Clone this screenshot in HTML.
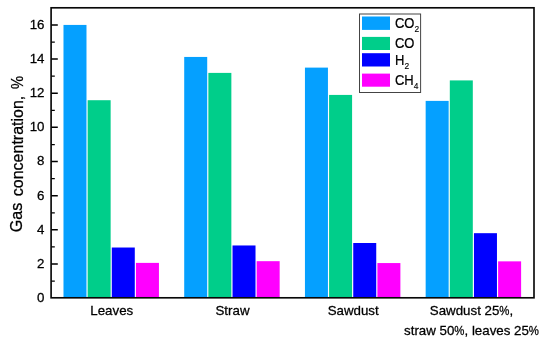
<!DOCTYPE html>
<html><head><meta charset="utf-8"><title>Gas concentration chart</title>
<style>html,body{margin:0;padding:0;background:#fff;overflow:hidden}</style></head>
<body>
<svg width="550" height="344" viewBox="0 0 550 344" style="display:block">
<rect width="550" height="344" fill="#fff"/>
<rect x="63.49" y="24.93" width="23.0" height="272.87" fill="#05a0ff"/>
<rect x="87.64" y="100.21" width="23.0" height="197.59" fill="#00ce8a"/>
<rect x="111.79" y="247.52" width="23.0" height="50.28" fill="#0000ff"/>
<rect x="135.94" y="262.89" width="23.0" height="34.91" fill="#ff00ff"/>
<rect x="184.21" y="56.94" width="23.0" height="240.86" fill="#05a0ff"/>
<rect x="208.36" y="72.90" width="23.0" height="224.90" fill="#00ce8a"/>
<rect x="232.51" y="245.47" width="23.0" height="52.33" fill="#0000ff"/>
<rect x="256.66" y="261.18" width="23.0" height="36.62" fill="#ff00ff"/>
<rect x="304.94" y="67.61" width="23.0" height="230.19" fill="#05a0ff"/>
<rect x="329.09" y="94.92" width="23.0" height="202.88" fill="#00ce8a"/>
<rect x="353.24" y="243.00" width="23.0" height="54.80" fill="#0000ff"/>
<rect x="377.39" y="263.06" width="23.0" height="34.74" fill="#ff00ff"/>
<rect x="425.66" y="100.89" width="23.0" height="196.91" fill="#05a0ff"/>
<rect x="449.81" y="80.41" width="23.0" height="217.39" fill="#00ce8a"/>
<rect x="473.96" y="233.18" width="23.0" height="64.62" fill="#0000ff"/>
<rect x="498.11" y="261.35" width="23.0" height="36.45" fill="#ff00ff"/>
<path d="M51.1 263.91h6.7 M51.1 229.77h6.7 M51.1 195.63h6.7 M51.1 161.49h6.7 M51.1 127.35h6.7 M51.1 93.21h6.7 M51.1 59.07h6.7 M51.1 24.93h6.7" stroke="#000" stroke-width="1.5" fill="none"/>
<path d="M51.1 281.08h3.7 M51.1 246.94h3.7 M51.1 212.80h3.7 M51.1 178.66h3.7 M51.1 144.52h3.7 M51.1 110.38h3.7 M51.1 76.24h3.7 M51.1 42.10h3.7" stroke="#000" stroke-width="1.25" fill="none"/>
<rect x="51.1" y="7.8" width="482.9" height="290.0" fill="none" stroke="#080808" stroke-width="1.65"/>
<g font-family="Liberation Sans, Arial, sans-serif" font-size="13.3" fill="#000" stroke="#000" stroke-width="0.27">
<text x="44.5" y="302.45" text-anchor="end">0</text>
<text x="44.5" y="267.51" text-anchor="end">2</text>
<text x="44.5" y="234.07" text-anchor="end">4</text>
<text x="44.5" y="199.68" text-anchor="end">6</text>
<text x="44.5" y="165.39" text-anchor="end">8</text>
<text x="44.5" y="131.05" text-anchor="end">10</text>
<text x="44.5" y="97.36" text-anchor="end">12</text>
<text x="44.5" y="63.12" text-anchor="end">14</text>
<text x="44.5" y="28.63" text-anchor="end">16</text>
<text transform="translate(111.76 315.2) scale(1 1.0)" text-anchor="middle">Leaves</text>
<text transform="translate(232.49 315.2) scale(1 1.0)" text-anchor="middle">Straw</text>
<text transform="translate(353.21 315.2) scale(1 1.0)" text-anchor="middle">Sawdust</text>
<text transform="translate(429.86 315.2) scale(1 1.0)">Sawdust 25</text>
<text transform="translate(499.35 315.2) scale(0.86 1.0)">%</text>
<text transform="translate(509.52 315.2) scale(1 1.0)">,</text>
<text transform="translate(404.08 334.5) scale(1 1.0)">straw 50</text>
<text transform="translate(454.34 334.5) scale(0.86 1.0)">%</text>
<text transform="translate(464.51 334.5) scale(1 1.0)">, leaves 25</text>
<text transform="translate(528.83 334.5) scale(0.86 1.0)">%</text>
</g>
<g font-family="Liberation Sans, Arial, sans-serif" fill="#000" stroke="#000" stroke-width="0.27">
<text transform="translate(22.4 232.3) rotate(-90)" font-size="16.1">Gas</text>
<text transform="translate(22.5 196.2) rotate(-90)" font-size="16">concentration,</text>
<text transform="translate(22.7 89.0) rotate(-90) scale(0.89 1)" font-size="16.5">%</text>
</g>
<rect x="359.5" y="14" width="61.1" height="78.5" fill="#fff" stroke="#444" stroke-width="1"/>
<g font-family="Liberation Sans, Arial, sans-serif" font-size="13" fill="#000" stroke="#000" stroke-width="0.2">
<rect x="362" y="16.5" width="28" height="13.4" fill="#05a0ff" stroke="none"/>
<text transform="translate(394.9 27.90) scale(1 1.07)">CO<tspan font-size="8.4" dy="3.9" dx="0.1" stroke-width="0.12">2</tspan></text>
<rect x="362" y="36.9" width="28" height="13.1" fill="#00ce8a" stroke="none"/>
<text transform="translate(394.9 48.15) scale(1 1.07)">CO</text>
<rect x="362" y="53.2" width="28" height="13.3" fill="#0000ff" stroke="none"/>
<text transform="translate(394.9 64.55) scale(1 1.07)">H<tspan font-size="8.4" dy="3.9" dx="0.1" stroke-width="0.12">2</tspan></text>
<rect x="362" y="73.6" width="28" height="13.1" fill="#ff00ff" stroke="none"/>
<text transform="translate(394.9 84.85) scale(1 1.07)">CH<tspan font-size="8.4" dy="3.9" dx="0.1" stroke-width="0.12">4</tspan></text>
</g>
</svg>
</body></html>
